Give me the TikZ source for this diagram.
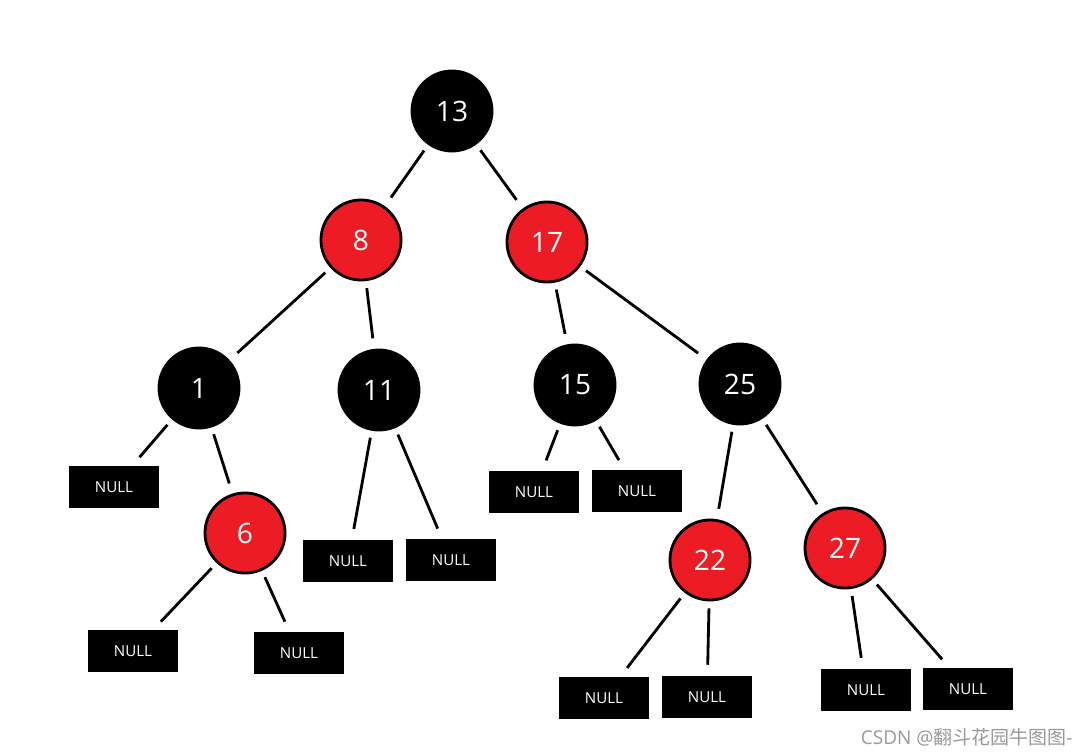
\documentclass[tikz,border=0pt]{standalone}
\usepackage{fontspec}
\setmainfont{Open Sans}
\newfontfamily\cjk{Noto Sans CJK SC}
\usepackage{tikz}
\usetikzlibrary{positioning}
\definecolor{rbred}{RGB}{237,28,36}
\tikzset{
  blk/.style = {circle, fill = black, draw = black, thick, minimum size = 0.8cm, inner sep = 0pt, text = white, font = \fontsize{8}{8}\selectfont},
  rd/.style = {blk, fill = rbred},
  nil/.style = {rectangle, fill = black, minimum width = 0.9cm, minimum height = 0.42cm, inner sep = 0pt, text = white, font = \fontsize{4.3}{4.3}\selectfont},
  edge/.style = {thick, shorten <= 2pt, shorten >= 3pt}
}
\begin{document}
\begin{tikzpicture}[x = 0.01cm, y = -0.01cm]
\useasboundingbox (0,0) rectangle (1092,755);
% inner nodes
\node[blk] (13) at (452,111) {13};
\node[rd]  (8)  at (361,240) {8};
\node[rd]  (17) at (547,242) {17};
\node[blk] (1)  at (199,388) {1};
\node[blk] (11) at (379,390) {11};
\node[blk] (15) at (575,385) {15};
\node[blk] (25) at (740,384) {25};
\node[rd]  (6)  at (245,533) {6};
\node[rd]  (22) at (710,560) {22};
\node[rd]  (27) at (845,548) {27};
% leaves
\node[nil] (n1a) at (114,487) {NULL};
\node[nil] (n6a) at (133,651) {NULL};
\node[nil] (n6b) at (299,653) {NULL};
\node[nil] (n11a) at (348,561) {NULL};
\node[nil] (n11b) at (451,560) {NULL};
\node[nil] (n15a) at (534,492) {NULL};
\node[nil] (n15b) at (637,491) {NULL};
\node[nil] (n22a) at (604,698) {NULL};
\node[nil] (n22b) at (707,697) {NULL};
\node[nil] (n27a) at (866,690) {NULL};
\node[nil] (n27b) at (968,689) {NULL};
% edges
\foreach \a/\b in {13/8, 13/17, 8/1, 8/11, 17/15, 17/25, 1/n1a, 1/6, 6/n6a, 6/n6b,
  11/n11a, 11/n11b, 15/n15a, 15/n15b, 25/22, 25/27, 22/n22a, 22/n22b, 27/n27a, 27/n27b}
  \draw[edge] (\a) -- (\b);
\node[text = gray!80, font = \fontsize{5.4}{6}\selectfont, anchor = east] (wm) at (1085,737) {CSDN @{\cjk 翻斗花园牛图图}-};
\end{tikzpicture}
\end{document}
